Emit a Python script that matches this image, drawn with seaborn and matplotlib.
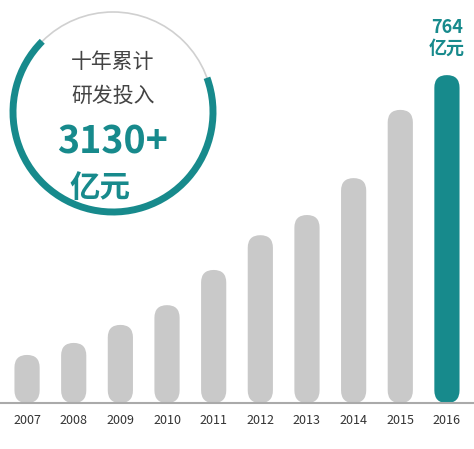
import matplotlib
matplotlib.use("Agg")
import matplotlib.pyplot as plt
import seaborn as sns
import pandas as pd
from matplotlib.patches import FancyBboxPatch, Arc, Circle

years = ["2007", "2008", "2009", "2010", "2011", "2012", "2013", "2014", "2015", "2016"]
values = [112, 140, 182, 228, 310, 391, 438, 524, 683, 764]
gray = "#c9c9c9"
teal = "#178a8c"

sns.set_style("white")
plt.rcParams['font.family'] = ['Noto Sans CJK SC', 'DejaVu Sans']

df = pd.DataFrame({"year": years, "value": values})
fig = plt.figure(figsize=(4.74, 4.49), dpi=100)
ax = fig.add_axes([0, 46 / 449, 1, 403 / 449])
sns.barplot(data=df, x="year", y="value", ax=ax, width=0.54, saturation=1,
            palette=[gray] * 9 + [teal], hue="year", legend=False)
ax.set_xlim(-0.58, 9.58)
ax.set_ylim(0, 939)

# round the bar ends
px_x = 1 / 46.67
px_y = 939 / 403
for p in list(ax.patches):
    x, w, h = p.get_x(), p.get_width(), p.get_height()
    r = w / 2
    fb = FancyBboxPatch((x, 0), w, h, boxstyle=f"round,pad=0,rounding_size={r}",
                        mutation_aspect=px_y / px_x, facecolor=p.get_facecolor(),
                        edgecolor="none")
    p.remove()
    ax.add_patch(fb)

ax.axhline(0, color="#aaaaaa", lw=1.5, clip_on=False)
ax.set_xticks(range(len(years)))
ax.set_xticklabels(years, fontsize=9, color="#333333")
ax.tick_params(axis="x", length=0, pad=8)
ax.set_yticks([])
ax.set_xlabel("")
ax.set_ylabel("")
sns.despine(ax=ax, left=True, bottom=True)
ax.text(9, values[-1] + 40, "764\n亿元", ha="center", va="bottom", color=teal,
        fontsize=13, fontweight="bold", linespacing=1.1)

# circle badge in pixel coordinates
ov = fig.add_axes([0, 0, 1, 1])
ov.set_xlim(0, 474)
ov.set_ylim(449, 0)
ov.axis("off")
ov.set_aspect("equal")
ov.add_patch(Circle((113, 112), 100, facecolor="white", edgecolor="#d0d0d0", lw=1.2))
ov.add_patch(Arc((113, 112), 200, 200, theta1=-20, theta2=225, color=teal, lw=5))
ov.text(113, 62, "十年累计", ha="center", va="center", fontsize=15, color="#444444")
ov.text(113, 96, "研发投入", ha="center", va="center", fontsize=15, color="#444444")
ov.text(113, 142, "3130+", ha="center", va="center", fontsize=27, color=teal, fontweight="bold")
ov.text(100, 188, "亿元", ha="center", va="center", fontsize=22, color=teal, fontweight="bold")

fig.savefig("out.png", dpi=100)
